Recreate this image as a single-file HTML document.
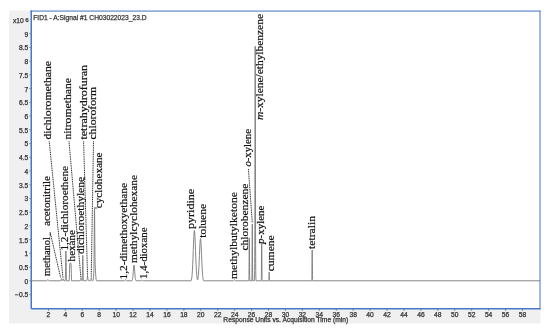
<!DOCTYPE html>
<html><head><meta charset="utf-8"><title>FID chromatogram</title>
<style>html,body{margin:0;padding:0;background:#fff;}svg{display:block;}.s{font-family:"Liberation Sans",sans-serif;font-size:6.7px;fill:#333;stroke:#333;stroke-width:0.25px;}.l{font-family:"Liberation Serif",serif;font-size:10.6px;fill:#111;stroke:#111;stroke-width:0.2px;}</style></head><body>
<svg width="550" height="331" viewBox="0 0 550 331">
<rect x="0" y="0" width="550" height="331" fill="#fff"/>
<rect x="9" y="10.5" width="531.5" height="313" fill="#f0f0f0"/>
<rect x="31.25" y="11.1" width="508.75" height="297.45" fill="#fff"/>
<path d="M31.25,280.80 L46.70,280.80 L46.80,280.79 L46.90,280.76 L47.00,280.72 L47.10,280.65 L47.20,280.55 L47.30,280.42 L47.40,280.26 L47.50,280.08 L47.60,279.90 L47.70,279.74 L47.80,279.64 L47.90,279.60 L48.00,279.64 L48.10,279.74 L48.20,279.90 L48.30,280.08 L48.40,280.26 L48.50,280.42 L48.60,280.55 L48.70,280.65 L48.80,280.72 L48.90,280.76 L49.00,280.79 L49.10,280.80 L60.70,280.80 L60.77,280.77 L60.85,280.73 L60.92,280.65 L61.00,280.52 L61.08,280.34 L61.15,280.10 L61.23,279.81 L61.30,279.48 L61.38,279.15 L61.45,278.86 L61.52,278.67 L61.60,278.60 L61.67,278.67 L61.75,278.86 L61.83,279.15 L61.90,279.48 L61.98,279.81 L62.05,280.10 L62.12,280.34 L62.20,280.52 L62.27,280.65 L62.30,280.68 L62.35,280.71 L62.38,280.72 L62.42,280.72 L62.45,280.72 L62.50,280.69 L62.52,280.66 L62.60,280.55 L62.67,280.39 L62.75,280.17 L62.83,279.90 L62.90,279.60 L62.98,279.30 L63.05,279.04 L63.12,278.86 L63.20,278.80 L63.27,278.86 L63.35,279.04 L63.42,279.30 L63.50,279.60 L63.58,279.90 L63.65,280.17 L63.73,280.39 L63.80,280.55 L63.88,280.66 L63.95,280.73 L64.03,280.78 L64.10,280.80 L65.20,280.80 L65.26,280.45 L65.32,279.81 L65.38,278.74 L65.43,277.07 L65.49,274.60 L65.55,271.35 L65.61,267.36 L65.67,262.83 L65.72,258.39 L65.78,254.56 L65.84,251.92 L65.90,251.00 L65.96,251.92 L66.02,254.56 L66.08,258.39 L66.13,262.83 L66.19,267.36 L66.25,271.35 L66.31,274.60 L66.37,277.07 L66.42,278.74 L66.48,279.81 L66.54,280.45 L66.60,280.80 L69.15,280.80 L69.25,279.75 L69.36,277.06 L69.46,273.39 L69.57,269.50 L69.67,266.06 L69.78,263.76 L69.88,263.20 L69.98,263.20 L70.09,263.20 L70.19,263.20 L70.30,263.20 L70.40,263.20 L70.50,263.20 L70.61,263.20 L70.71,263.20 L70.82,263.20 L70.92,263.20 L71.03,263.76 L71.13,266.06 L71.23,269.50 L71.34,273.43 L71.44,277.06 L71.55,279.75 L71.65,280.80 L80.10,280.80 L80.17,280.78 L80.25,280.73 L80.33,280.66 L80.40,280.55 L80.47,280.39 L80.55,280.17 L80.62,279.90 L80.70,279.60 L80.78,279.30 L80.85,279.04 L80.92,278.86 L81.00,278.80 L81.08,278.86 L81.15,279.04 L81.22,279.30 L81.30,279.60 L81.38,279.90 L81.45,280.17 L81.53,280.39 L81.60,280.55 L81.67,280.66 L81.75,280.73 L81.83,280.78 L81.90,280.80 L82.10,280.80 L82.16,280.50 L82.22,279.95 L82.28,279.03 L82.33,277.61 L82.39,275.50 L82.45,272.71 L82.51,269.30 L82.57,265.42 L82.62,261.62 L82.68,258.35 L82.74,256.08 L82.80,255.30 L82.86,256.08 L82.92,258.35 L82.97,261.62 L83.03,265.42 L83.09,269.30 L83.15,272.71 L83.21,275.50 L83.27,277.61 L83.33,279.03 L83.38,279.95 L83.44,280.50 L83.50,280.80 L86.50,280.80 L86.59,280.75 L86.68,280.67 L86.78,280.54 L86.87,280.32 L86.96,280.01 L87.05,279.60 L87.14,279.08 L87.23,278.51 L87.33,277.94 L87.42,277.45 L87.51,277.12 L87.60,277.00 L87.69,277.12 L87.78,277.45 L87.88,277.94 L87.97,278.51 L88.06,279.08 L88.15,279.60 L88.24,280.01 L88.33,280.32 L88.42,280.54 L88.52,280.67 L88.61,280.75 L88.70,280.80 L90.20,280.80 L90.28,280.77 L90.37,280.73 L90.45,280.65 L90.53,280.52 L90.62,280.34 L90.70,280.10 L90.78,279.81 L90.87,279.47 L90.95,279.15 L91.03,278.86 L91.12,278.67 L91.20,278.60 L91.28,278.67 L91.37,278.86 L91.45,279.15 L91.53,279.47 L91.62,279.81 L91.70,280.10 L91.78,280.34 L91.87,280.52 L91.95,280.65 L92.03,280.73 L92.12,280.77 L92.20,280.80 L92.80,280.80 L92.96,280.54 L93.12,280.06 L93.28,279.26 L93.43,278.01 L93.59,276.19 L93.75,273.76 L93.80,272.87 L93.86,271.18 L93.91,269.29 L93.92,268.90 L93.97,265.87 L94.03,261.79 L94.07,258.81 L94.09,256.32 L94.15,249.55 L94.21,241.54 L94.22,239.02 L94.27,232.65 L94.33,224.00 L94.38,216.51 L94.44,211.15 L94.50,208.89 L94.54,209.31 L94.56,209.92 L94.62,214.06 L94.67,220.41 L94.70,223.59 L94.73,228.00 L94.79,235.93 L94.85,243.11 L94.86,244.03 L94.91,249.21 L94.97,254.15 L95.02,257.40 L95.03,257.85 L95.08,260.66 L95.14,262.86 L95.17,263.89 L95.20,264.61 L95.33,267.43 L95.49,270.78 L95.65,273.76 L95.81,276.19 L95.97,278.01 L96.12,279.26 L96.28,280.06 L96.44,280.54 L96.60,280.80 L124.40,280.80 L124.50,280.79 L124.60,280.76 L124.70,280.72 L124.80,280.65 L124.90,280.55 L125.00,280.42 L125.10,280.26 L125.20,280.08 L125.30,279.90 L125.40,279.74 L125.50,279.64 L125.60,279.60 L125.70,279.64 L125.80,279.74 L125.90,279.90 L126.00,280.08 L126.10,280.26 L126.20,280.42 L126.30,280.55 L126.40,280.65 L126.50,280.72 L126.60,280.76 L126.70,280.79 L126.80,280.80 L131.90,280.80 L132.07,280.61 L132.25,280.28 L132.43,279.71 L132.60,278.82 L132.78,277.52 L132.95,275.79 L133.12,273.66 L133.30,271.29 L133.47,268.92 L133.65,266.88 L133.82,265.49 L134.00,265.00 L134.18,265.49 L134.35,266.88 L134.53,268.92 L134.70,271.29 L134.88,273.66 L135.05,275.79 L135.22,277.52 L135.40,278.82 L135.57,279.71 L135.75,280.28 L135.93,280.61 L136.10,280.80 L140.80,280.80 L140.90,280.79 L141.00,280.77 L141.10,280.74 L141.20,280.70 L141.30,280.63 L141.40,280.55 L141.50,280.44 L141.60,280.32 L141.70,280.20 L141.80,280.10 L141.90,280.02 L142.00,280.00 L142.10,280.02 L142.20,280.10 L142.30,280.20 L142.40,280.32 L142.50,280.44 L142.60,280.55 L142.70,280.63 L142.80,280.70 L142.90,280.74 L143.00,280.77 L143.10,280.79 L143.20,280.80 L191.00,280.80 L191.28,280.21 L191.57,279.13 L191.85,277.32 L192.13,274.49 L192.42,270.36 L192.70,264.85 L192.98,258.09 L193.27,250.50 L193.55,242.97 L193.83,236.48 L194.12,232.06 L194.40,230.50 L194.68,232.06 L194.97,236.48 L195.25,242.97 L195.53,250.50 L195.82,258.09 L196.10,264.85 L196.38,270.36 L196.67,274.49 L196.95,277.32 L197.23,279.13 L197.30,279.44 L197.52,279.82 L197.57,279.84 L197.80,279.54 L197.83,279.40 L198.10,277.87 L198.37,275.48 L198.63,272.03 L198.90,267.39 L199.17,261.68 L199.43,255.34 L199.70,248.99 L199.97,243.52 L200.23,239.82 L200.50,238.50 L200.77,239.82 L201.03,243.52 L201.30,248.99 L201.57,255.34 L201.83,261.68 L202.10,267.39 L202.37,272.03 L202.63,275.48 L202.90,277.87 L203.17,279.40 L203.43,280.30 L203.70,280.80 L233.20,280.80 L233.30,280.79 L233.40,280.76 L233.50,280.72 L233.60,280.65 L233.70,280.55 L233.80,280.42 L233.90,280.26 L234.00,280.08 L234.10,279.90 L234.20,279.74 L234.30,279.64 L234.40,279.60 L234.50,279.64 L234.60,279.74 L234.70,279.90 L234.80,280.08 L234.90,280.26 L235.00,280.42 L235.10,280.55 L235.20,280.65 L235.30,280.72 L235.40,280.76 L235.50,280.79 L235.60,280.80 L248.80,280.80 L248.84,280.29 L248.88,279.39 L248.93,277.84 L248.97,275.40 L249.01,271.95 L249.05,267.23 L249.09,261.42 L249.13,255.08 L249.18,248.61 L249.22,243.05 L249.26,239.35 L249.30,238.00 L249.34,239.35 L249.38,243.05 L249.43,248.61 L249.47,255.08 L249.51,261.42 L249.55,267.23 L249.59,271.95 L249.63,275.40 L249.68,277.84 L249.72,279.39 L249.76,280.29 L249.80,280.80 L251.80,280.80 L251.84,280.12 L251.88,278.93 L251.93,276.87 L251.97,273.63 L252.01,269.06 L252.05,262.79 L252.09,255.08 L252.13,246.67 L252.18,238.08 L252.22,230.70 L252.26,225.80 L252.30,224.00 L252.34,225.80 L252.38,230.70 L252.43,238.08 L252.47,246.67 L252.51,255.08 L252.55,262.79 L252.59,269.06 L252.63,273.63 L252.68,276.87 L252.72,278.93 L252.76,280.12 L252.80,280.80 L254.35,280.80 L254.42,279.97 L254.49,278.45 L254.56,275.95 L254.63,271.98 L254.65,270.77 L254.70,265.01 L254.70,263.78 L254.74,256.83 L254.78,249.02 L254.79,245.71 L254.83,230.29 L254.85,225.09 L254.88,210.13 L254.92,189.79 L254.93,185.11 L254.97,156.02 L254.99,145.27 L255.02,124.81 L255.06,97.71 L255.06,95.20 L255.11,69.59 L255.13,60.49 L255.15,52.37 L255.20,46.30 L255.25,52.37 L255.27,60.49 L255.29,69.59 L255.34,94.58 L255.34,97.71 L255.38,124.81 L255.41,144.59 L255.43,156.02 L255.47,185.11 L255.48,189.79 L255.52,210.13 L255.55,225.09 L255.57,230.29 L255.61,245.42 L255.62,249.02 L255.66,256.83 L255.70,263.78 L255.70,265.01 L255.75,270.77 L255.77,271.98 L255.84,275.90 L255.91,278.45 L255.98,279.97 L256.05,280.80 L261.20,280.80 L261.24,280.36 L261.28,279.59 L261.32,278.25 L261.37,276.16 L261.41,273.19 L261.45,269.13 L261.49,264.13 L261.53,258.69 L261.57,253.12 L261.62,248.34 L261.66,245.16 L261.70,244.00 L261.74,245.16 L261.78,248.34 L261.82,253.12 L261.87,258.69 L261.91,264.13 L261.95,269.13 L261.99,273.19 L262.03,276.16 L262.07,278.25 L262.12,279.59 L262.16,280.36 L262.20,280.80 L268.70,280.80 L268.74,280.69 L268.78,280.51 L268.82,280.19 L268.87,279.69 L268.91,278.98 L268.95,278.01 L268.99,276.81 L269.03,275.51 L269.07,274.18 L269.12,273.04 L269.16,272.28 L269.20,272.00 L269.24,272.28 L269.28,273.04 L269.32,274.18 L269.37,275.51 L269.41,276.81 L269.45,278.01 L269.49,278.98 L269.53,279.69 L269.57,280.19 L269.62,280.51 L269.66,280.69 L269.70,280.80 L311.70,280.80 L311.74,280.43 L311.78,279.78 L311.82,278.67 L311.87,276.91 L311.91,274.43 L311.95,271.03 L311.99,266.85 L312.03,262.29 L312.07,257.64 L312.12,253.63 L312.16,250.97 L312.20,250.00 L312.24,250.97 L312.28,253.63 L312.32,257.64 L312.37,262.29 L312.41,266.85 L312.45,271.03 L312.49,274.43 L312.53,276.91 L312.57,278.67 L312.62,279.78 L312.66,280.43 L312.70,280.80 L540.00,280.80" fill="none" stroke="#787878" stroke-width="0.9" stroke-linejoin="round"/>
<line x1="50.2" y1="232.5" x2="60.6" y2="277.5" stroke="#111" stroke-width="0.9" stroke-dasharray="1.1 0.7"/>
<line x1="49.2" y1="141.3" x2="63.0" y2="278" stroke="#111" stroke-width="0.9" stroke-dasharray="1.1 0.7"/>
<line x1="69.0" y1="141.3" x2="81.0" y2="278.6" stroke="#111" stroke-width="0.9" stroke-dasharray="1.1 0.7"/>
<line x1="83.6" y1="141.3" x2="87.6" y2="277" stroke="#111" stroke-width="0.9" stroke-dasharray="1.1 0.7"/>
<line x1="93.5" y1="141.3" x2="91.2" y2="278.5" stroke="#111" stroke-width="0.9" stroke-dasharray="1.1 0.7"/>
<line x1="248.4" y1="169" x2="252.3" y2="223" stroke="#111" stroke-width="0.9" stroke-dasharray="1.1 0.7"/>
<line x1="50.2" y1="236.2" x2="50.2" y2="232.5" stroke="#222" stroke-width="0.8"/>
<line x1="84.7" y1="180" x2="84.7" y2="176.8" stroke="#222" stroke-width="0.8"/>
<line x1="93.9" y1="208" x2="97" y2="208" stroke="#222" stroke-width="0.8"/>
<text class="l" transform="translate(50.0,276.0) rotate(-90)" textLength="39.0" lengthAdjust="spacingAndGlyphs">methanol</text>
<text class="l" transform="translate(50.0,226.0) rotate(-90)" textLength="50.0" lengthAdjust="spacingAndGlyphs">acetonitrile</text>
<text class="l" transform="translate(50.6,139.6) rotate(-90)" textLength="78.6" lengthAdjust="spacingAndGlyphs">dichloromethane</text>
<text class="l" transform="translate(68.2,250.6) rotate(-90)" textLength="84.6" lengthAdjust="spacingAndGlyphs">1,2-dichloroethene</text>
<text class="l" transform="translate(75.0,261.4) rotate(-90)" textLength="31.4" lengthAdjust="spacingAndGlyphs">hexane</text>
<text class="l" transform="translate(71.0,139.6) rotate(-90)" textLength="61.6" lengthAdjust="spacingAndGlyphs">nitromethane</text>
<text class="l" transform="translate(84.0,254.0) rotate(-90)" textLength="77.0" lengthAdjust="spacingAndGlyphs">dichloroethylene</text>
<text class="l" transform="translate(86.6,139.6) rotate(-90)" textLength="74.6" lengthAdjust="spacingAndGlyphs">tetrahydrofuran</text>
<text class="l" transform="translate(95.8,139.6) rotate(-90)" textLength="52.6" lengthAdjust="spacingAndGlyphs">chloroform</text>
<text class="l" transform="translate(101.5,208.3) rotate(-90)" textLength="55.8" lengthAdjust="spacingAndGlyphs">cyclohexane</text>
<text class="l" transform="translate(127.0,279.5) rotate(-90)" textLength="96.5" lengthAdjust="spacingAndGlyphs">1,2-dimethoxyethane</text>
<text class="l" transform="translate(137.0,263.0) rotate(-90)" textLength="88.0" lengthAdjust="spacingAndGlyphs">methylcyclohexane</text>
<text class="l" transform="translate(146.5,279.0) rotate(-90)" textLength="51.5" lengthAdjust="spacingAndGlyphs">1,4-dioxane</text>
<text class="l" transform="translate(193.5,229.0) rotate(-90)" textLength="40.2" lengthAdjust="spacingAndGlyphs">pyridine</text>
<text class="l" transform="translate(205.7,237.8) rotate(-90)" textLength="33.8" lengthAdjust="spacingAndGlyphs">toluene</text>
<text class="l" transform="translate(236.6,279.0) rotate(-90)" textLength="87.0" lengthAdjust="spacingAndGlyphs">methylbutylketone</text>
<text class="l" transform="translate(247.8,250.6) rotate(-90)" textLength="67.0" lengthAdjust="spacingAndGlyphs">chlorobenzene</text>
<text class="l" transform="translate(251.0,166.6) rotate(-90)" textLength="37.6" lengthAdjust="spacingAndGlyphs"><tspan font-style="italic">o</tspan>-xylene</text>
<text class="l" transform="translate(263.2,120.0) rotate(-90)" textLength="106.0" lengthAdjust="spacingAndGlyphs"><tspan font-style="italic">m</tspan>-xylene/ethylbenzene</text>
<text class="l" transform="translate(264.3,244.0) rotate(-90)" textLength="38.5" lengthAdjust="spacingAndGlyphs"><tspan font-style="italic">p</tspan>-xylene</text>
<text class="l" transform="translate(273.6,271.3) rotate(-90)" textLength="36.0" lengthAdjust="spacingAndGlyphs">cumene</text>
<text class="l" transform="translate(314.5,249.0) rotate(-90)" textLength="33.2" lengthAdjust="spacingAndGlyphs">tetralin</text>
<line x1="30.5" y1="11.1" x2="540.5" y2="11.1" stroke="#4876c8" stroke-width="1"/>
<line x1="540" y1="10.6" x2="540" y2="309.3" stroke="#4876c8" stroke-width="1"/>
<line x1="31.25" y1="10.6" x2="31.25" y2="308.6" stroke="#4876c8" stroke-width="1.5"/>
<path d="M31.25,308.2 Q31.25,308.7 32,308.7 L540.5,308.7" fill="none" stroke="#4876c8" stroke-width="1.5"/>
<line x1="29.4" y1="294.58" x2="30.6" y2="294.58" stroke="#4a5a7a" stroke-width="0.8"/>
<text class="s" x="28.3" y="297.48" text-anchor="end">−0.5</text>
<line x1="29.4" y1="280.85" x2="30.6" y2="280.85" stroke="#4a5a7a" stroke-width="0.8"/>
<text class="s" x="28.3" y="283.75" text-anchor="end">0</text>
<line x1="29.4" y1="267.12" x2="30.6" y2="267.12" stroke="#4a5a7a" stroke-width="0.8"/>
<text class="s" x="28.3" y="270.02" text-anchor="end">0.5</text>
<line x1="29.4" y1="253.39" x2="30.6" y2="253.39" stroke="#4a5a7a" stroke-width="0.8"/>
<text class="s" x="28.3" y="256.29" text-anchor="end">1</text>
<line x1="29.4" y1="239.66" x2="30.6" y2="239.66" stroke="#4a5a7a" stroke-width="0.8"/>
<text class="s" x="28.3" y="242.56" text-anchor="end">1.5</text>
<line x1="29.4" y1="225.93" x2="30.6" y2="225.93" stroke="#4a5a7a" stroke-width="0.8"/>
<text class="s" x="28.3" y="228.83" text-anchor="end">2</text>
<line x1="29.4" y1="212.20" x2="30.6" y2="212.20" stroke="#4a5a7a" stroke-width="0.8"/>
<text class="s" x="28.3" y="215.10" text-anchor="end">2.5</text>
<line x1="29.4" y1="198.47" x2="30.6" y2="198.47" stroke="#4a5a7a" stroke-width="0.8"/>
<text class="s" x="28.3" y="201.37" text-anchor="end">3</text>
<line x1="29.4" y1="184.74" x2="30.6" y2="184.74" stroke="#4a5a7a" stroke-width="0.8"/>
<text class="s" x="28.3" y="187.64" text-anchor="end">3.5</text>
<line x1="29.4" y1="171.01" x2="30.6" y2="171.01" stroke="#4a5a7a" stroke-width="0.8"/>
<text class="s" x="28.3" y="173.91" text-anchor="end">4</text>
<line x1="29.4" y1="157.28" x2="30.6" y2="157.28" stroke="#4a5a7a" stroke-width="0.8"/>
<text class="s" x="28.3" y="160.18" text-anchor="end">4.5</text>
<line x1="29.4" y1="143.55" x2="30.6" y2="143.55" stroke="#4a5a7a" stroke-width="0.8"/>
<text class="s" x="28.3" y="146.45" text-anchor="end">5</text>
<line x1="29.4" y1="129.82" x2="30.6" y2="129.82" stroke="#4a5a7a" stroke-width="0.8"/>
<text class="s" x="28.3" y="132.72" text-anchor="end">5.5</text>
<line x1="29.4" y1="116.09" x2="30.6" y2="116.09" stroke="#4a5a7a" stroke-width="0.8"/>
<text class="s" x="28.3" y="118.99" text-anchor="end">6</text>
<line x1="29.4" y1="102.36" x2="30.6" y2="102.36" stroke="#4a5a7a" stroke-width="0.8"/>
<text class="s" x="28.3" y="105.26" text-anchor="end">6.5</text>
<line x1="29.4" y1="88.63" x2="30.6" y2="88.63" stroke="#4a5a7a" stroke-width="0.8"/>
<text class="s" x="28.3" y="91.53" text-anchor="end">7</text>
<line x1="29.4" y1="74.90" x2="30.6" y2="74.90" stroke="#4a5a7a" stroke-width="0.8"/>
<text class="s" x="28.3" y="77.80" text-anchor="end">7.5</text>
<line x1="29.4" y1="61.17" x2="30.6" y2="61.17" stroke="#4a5a7a" stroke-width="0.8"/>
<text class="s" x="28.3" y="64.07" text-anchor="end">8</text>
<line x1="29.4" y1="47.44" x2="30.6" y2="47.44" stroke="#4a5a7a" stroke-width="0.8"/>
<text class="s" x="28.3" y="50.34" text-anchor="end">8.5</text>
<line x1="29.4" y1="33.71" x2="30.6" y2="33.71" stroke="#4a5a7a" stroke-width="0.8"/>
<text class="s" x="28.3" y="36.61" text-anchor="end">9</text>
<line x1="48.43" y1="309.25" x2="48.43" y2="310.75" stroke="#4a5a7a" stroke-width="0.8"/>
<text class="s" x="48.43" y="317.1" text-anchor="middle">2</text>
<line x1="65.36" y1="309.25" x2="65.36" y2="310.75" stroke="#4a5a7a" stroke-width="0.8"/>
<text class="s" x="65.36" y="317.1" text-anchor="middle">4</text>
<line x1="82.29" y1="309.25" x2="82.29" y2="310.75" stroke="#4a5a7a" stroke-width="0.8"/>
<text class="s" x="82.29" y="317.1" text-anchor="middle">6</text>
<line x1="99.22" y1="309.25" x2="99.22" y2="310.75" stroke="#4a5a7a" stroke-width="0.8"/>
<text class="s" x="99.22" y="317.1" text-anchor="middle">8</text>
<line x1="116.15" y1="309.25" x2="116.15" y2="310.75" stroke="#4a5a7a" stroke-width="0.8"/>
<text class="s" x="116.15" y="317.1" text-anchor="middle">10</text>
<line x1="133.08" y1="309.25" x2="133.08" y2="310.75" stroke="#4a5a7a" stroke-width="0.8"/>
<text class="s" x="133.08" y="317.1" text-anchor="middle">12</text>
<line x1="150.01" y1="309.25" x2="150.01" y2="310.75" stroke="#4a5a7a" stroke-width="0.8"/>
<text class="s" x="150.01" y="317.1" text-anchor="middle">14</text>
<line x1="166.94" y1="309.25" x2="166.94" y2="310.75" stroke="#4a5a7a" stroke-width="0.8"/>
<text class="s" x="166.94" y="317.1" text-anchor="middle">16</text>
<line x1="183.87" y1="309.25" x2="183.87" y2="310.75" stroke="#4a5a7a" stroke-width="0.8"/>
<text class="s" x="183.87" y="317.1" text-anchor="middle">18</text>
<line x1="200.80" y1="309.25" x2="200.80" y2="310.75" stroke="#4a5a7a" stroke-width="0.8"/>
<text class="s" x="200.80" y="317.1" text-anchor="middle">20</text>
<line x1="217.73" y1="309.25" x2="217.73" y2="310.75" stroke="#4a5a7a" stroke-width="0.8"/>
<text class="s" x="217.73" y="317.1" text-anchor="middle">22</text>
<line x1="234.66" y1="309.25" x2="234.66" y2="310.75" stroke="#4a5a7a" stroke-width="0.8"/>
<text class="s" x="234.66" y="317.1" text-anchor="middle">24</text>
<line x1="251.59" y1="309.25" x2="251.59" y2="310.75" stroke="#4a5a7a" stroke-width="0.8"/>
<text class="s" x="251.59" y="317.1" text-anchor="middle">26</text>
<line x1="268.52" y1="309.25" x2="268.52" y2="310.75" stroke="#4a5a7a" stroke-width="0.8"/>
<text class="s" x="268.52" y="317.1" text-anchor="middle">28</text>
<line x1="285.45" y1="309.25" x2="285.45" y2="310.75" stroke="#4a5a7a" stroke-width="0.8"/>
<text class="s" x="285.45" y="317.1" text-anchor="middle">30</text>
<line x1="302.38" y1="309.25" x2="302.38" y2="310.75" stroke="#4a5a7a" stroke-width="0.8"/>
<text class="s" x="302.38" y="317.1" text-anchor="middle">32</text>
<line x1="319.31" y1="309.25" x2="319.31" y2="310.75" stroke="#4a5a7a" stroke-width="0.8"/>
<text class="s" x="319.31" y="317.1" text-anchor="middle">34</text>
<line x1="336.24" y1="309.25" x2="336.24" y2="310.75" stroke="#4a5a7a" stroke-width="0.8"/>
<text class="s" x="336.24" y="317.1" text-anchor="middle">36</text>
<line x1="353.17" y1="309.25" x2="353.17" y2="310.75" stroke="#4a5a7a" stroke-width="0.8"/>
<text class="s" x="353.17" y="317.1" text-anchor="middle">38</text>
<line x1="370.10" y1="309.25" x2="370.10" y2="310.75" stroke="#4a5a7a" stroke-width="0.8"/>
<text class="s" x="370.10" y="317.1" text-anchor="middle">40</text>
<line x1="387.03" y1="309.25" x2="387.03" y2="310.75" stroke="#4a5a7a" stroke-width="0.8"/>
<text class="s" x="387.03" y="317.1" text-anchor="middle">42</text>
<line x1="403.96" y1="309.25" x2="403.96" y2="310.75" stroke="#4a5a7a" stroke-width="0.8"/>
<text class="s" x="403.96" y="317.1" text-anchor="middle">44</text>
<line x1="420.89" y1="309.25" x2="420.89" y2="310.75" stroke="#4a5a7a" stroke-width="0.8"/>
<text class="s" x="420.89" y="317.1" text-anchor="middle">46</text>
<line x1="437.82" y1="309.25" x2="437.82" y2="310.75" stroke="#4a5a7a" stroke-width="0.8"/>
<text class="s" x="437.82" y="317.1" text-anchor="middle">48</text>
<line x1="454.75" y1="309.25" x2="454.75" y2="310.75" stroke="#4a5a7a" stroke-width="0.8"/>
<text class="s" x="454.75" y="317.1" text-anchor="middle">50</text>
<line x1="471.68" y1="309.25" x2="471.68" y2="310.75" stroke="#4a5a7a" stroke-width="0.8"/>
<text class="s" x="471.68" y="317.1" text-anchor="middle">52</text>
<line x1="488.61" y1="309.25" x2="488.61" y2="310.75" stroke="#4a5a7a" stroke-width="0.8"/>
<text class="s" x="488.61" y="317.1" text-anchor="middle">54</text>
<line x1="505.54" y1="309.25" x2="505.54" y2="310.75" stroke="#4a5a7a" stroke-width="0.8"/>
<text class="s" x="505.54" y="317.1" text-anchor="middle">56</text>
<line x1="522.47" y1="309.25" x2="522.47" y2="310.75" stroke="#4a5a7a" stroke-width="0.8"/>
<text class="s" x="522.47" y="317.1" text-anchor="middle">58</text>
<text class="s" x="13" y="23">x10</text>
<text class="s" x="25.3" y="21.8" style="font-size:6.2px">6</text>
<text class="s" x="33.2" y="19.9">FID1 - A:Signal #1 CH03022023_23.D</text>
<text class="s" x="285.8" y="321.9" text-anchor="middle">Response Units vs. Acquisition Time (min)</text>
</svg></body></html>
